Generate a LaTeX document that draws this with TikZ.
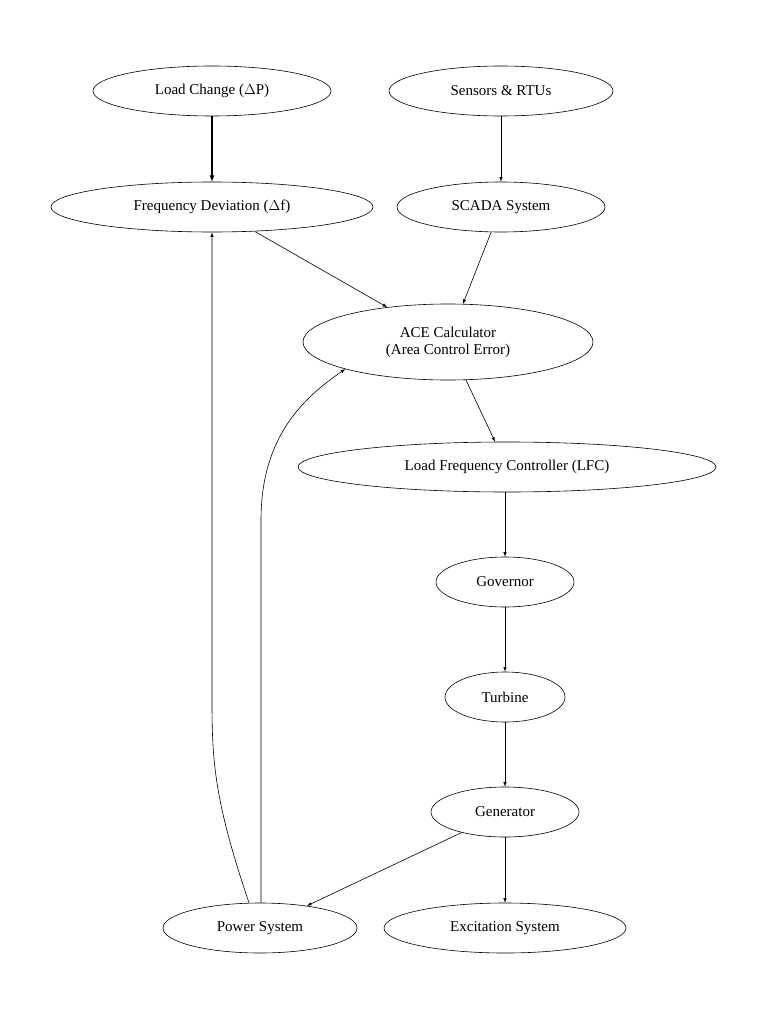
\documentclass[tikz,border=0pt]{standalone}
\usepackage{fontspec}
\setmainfont{Liberation Serif}
\usetikzlibrary{arrows, shapes.geometric}
\begin{document}
\begin{tikzpicture}[
		x = 1pt, y = -1pt, % pixel grid, y down
		> = latex, % arrow head style
		semithick % line style
		]
		
		\tikzstyle{block}=[
		ellipse,
		draw = black,
		fill = white,
		inner sep = 0pt,
		minimum height = 50pt,
		font = \fontsize{15}{17}\selectfont,
		align = center
		]
		
		\useasboundingbox (0,0) rectangle (768,1024);
		
		\node[block, minimum width=238pt] (load) at (212,91) {Load Change ($\Delta$P)};
		\node[block, minimum width=224pt] (sensors) at (501,91) {Sensors \& RTUs};
		\node[block, minimum width=322pt] (freq) at (212,207) {Frequency Deviation ($\Delta$f)};
		\node[block, minimum width=208pt] (scada) at (501,207) {SCADA System};
		\node[block, minimum width=290pt, minimum height=76pt] (ace) at (448,342) {ACE Calculator\\(Area Control Error)};
		\node[block, minimum width=418pt] (lfc) at (507,467) {Load Frequency Controller (LFC)};
		\node[block, minimum width=138pt] (gov) at (505,582) {Governor};
		\node[block, minimum width=120pt] (turb) at (505,697) {Turbine};
		\node[block, minimum width=148pt] (gen) at (505,812) {Generator};
		\node[block, minimum width=194pt] (power) at (260,928) {Power System};
		\node[block, minimum width=242pt] (exc) at (505,928) {Excitation System};
		
		\path[->, very thick] (load) edge (freq);
		\path[->] (sensors) edge (scada);
		\path[->] (freq) edge (ace);
		\path[->] (scada) edge (ace);
		\path[->] (ace) edge (lfc);
		\path[->] (lfc.south -| gov.north) edge (gov);
		\path[->] (gov) edge (turb);
		\path[->] (turb) edge (gen);
		\path[->] (gen) edge (power);
		\path[->] (gen) edge (exc);
		
		% feedback paths
		\draw[->] (power.north) ++(-11,0) .. controls (214,800) and (212,760) .. (212,700) -- (freq.south);
		\draw[->] (power.north) ++(1,0) -- (261,520) .. controls (261,440) and (300,400) .. (ace.south west);
		
		\end{tikzpicture}
\end{document}
